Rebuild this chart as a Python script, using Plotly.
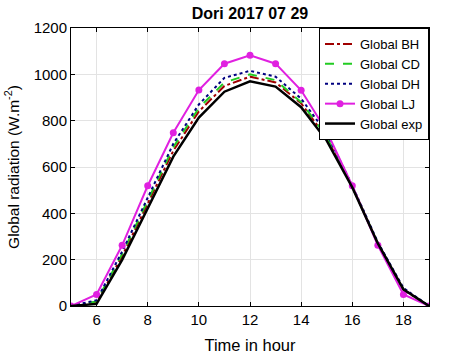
import plotly.graph_objects as go

hours = [5, 6, 7, 8, 9, 10, 11, 12, 13, 14, 15, 16, 17, 18, 19]
global_bh = [0, 15, 215, 445, 670, 840, 950, 990, 965, 875, 725, 515, 270, 70, 0]
global_cd = [0, 20, 225, 455, 685, 855, 965, 1000, 975, 880, 730, 515, 270, 72, 0]
global_dh = [0, 25, 235, 470, 700, 870, 985, 1015, 990, 895, 745, 520, 275, 78, 0]
global_lj = [0, 50, 262, 519, 748, 932, 1046, 1082, 1046, 931, 754, 519, 262, 50, 0]
global_exp = [0, 9, 199, 422, 645, 813, 925, 970, 947, 858, 714, 512, 270, 72, 0]

x_ticks = [6, 8, 10, 12, 14, 16, 18]
y_ticks = [0, 200, 400, 600, 800, 1000, 1200]

fig = go.Figure()
fig.add_trace(go.Scatter(x=hours, y=global_bh, mode="lines", name="Global BH",
                         line=dict(color="#A00000", width=2, dash="dashdot")))
fig.add_trace(go.Scatter(x=hours, y=global_cd, mode="lines", name="Global CD",
                         line=dict(color="#22CC22", width=2, dash="dash")))
fig.add_trace(go.Scatter(x=hours, y=global_dh, mode="lines", name="Global DH",
                         line=dict(color="#000080", width=2, dash="dot")))
fig.add_trace(go.Scatter(x=hours, y=global_lj, mode="lines+markers", name="Global LJ",
                         line=dict(color="#E020E0", width=2),
                         marker=dict(color="#E020E0", size=7, symbol="circle")))
fig.add_trace(go.Scatter(x=hours, y=global_exp, mode="lines", name="Global exp",
                         line=dict(color="black", width=2.5)))

axis_common = dict(showline=True, linecolor="black", linewidth=1, mirror="ticks",
                   ticks="inside", ticklen=4, tickcolor="black",
                   showgrid=True, gridcolor="#E3E3E3", gridwidth=1,
                   zeroline=False, automargin=False,
                   tickfont=dict(size=15, color="black"))

fig.update_layout(
    width=474, height=355,
    margin=dict(l=71, r=45, t=28, b=49),
    paper_bgcolor="white", plot_bgcolor="white",
    font=dict(family="Liberation Sans, Arial, sans-serif", color="black"),
    title=dict(text="<b>Dori 2017 07 29</b>", xref="paper", x=0.5, xanchor="center",
               yref="container", y=0.963, yanchor="middle",
               font=dict(size=16, color="black")),
    xaxis=dict(range=[5, 19], tickvals=x_ticks,
               title=dict(text="Time in hour", font=dict(size=16.5), standoff=12),
               **axis_common),
    yaxis=dict(range=[0, 1200], tickvals=y_ticks,
               title=dict(text="Global radiation (W.m<sup>-2</sup>)", font=dict(size=15.5), standoff=10),
               **axis_common),
    legend=dict(x=1.0, y=1.0, xanchor="right", yanchor="top",
                bgcolor="white", bordercolor="black", borderwidth=1,
                font=dict(size=13, color="black"), tracegroupgap=0,
                itemwidth=30),
    showlegend=True,
)

fig.write_html("out.html", config={"displayModeBar": False},
               post_script="document.body.style.margin='0';")
